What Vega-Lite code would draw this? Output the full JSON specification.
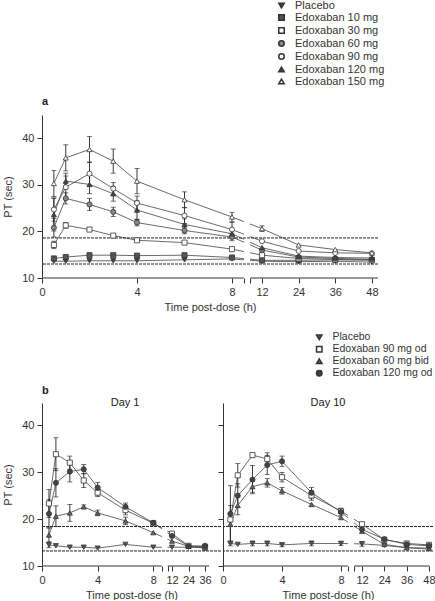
{
  "$schema": "https://vega.github.io/schema/vega-lite/v6.json",
  "padding": {"left": 2, "top": 0, "right": 0, "bottom": 0},
  "bounds": "flush",
  "spacing": 125,
  "config": {
    "font": "Liberation Sans",
    "view": {"stroke": null},
    "axis": {
      "grid": false, "labelFontSize": 11, "labelColor": "#333", "titleFontSize": 11,
      "titleFontWeight": "normal", "titleColor": "#333", "tickColor": "#333",
      "domainColor": "#333", "tickSize": 5, "labelPadding": 3, "labelOverlap": false
    },
    "legend": {
      "title": null, "padding": 0, "labelFontSize": 11, "labelColor": "#333", "symbolSize": 30, "labelOffset": 8
    }
  },
  "datasets": {
    "a": [
      {"g": "Placebo", "t": 0.5, "pt": 13.6}, {"g": "Placebo", "t": 1, "pt": 13.6}, {"g": "Placebo", "t": 2, "pt": 13.7},
      {"g": "Placebo", "t": 3, "pt": 13.7}, {"g": "Placebo", "t": 4, "pt": 13.7}, {"g": "Placebo", "t": 6, "pt": 13.9},
      {"g": "Placebo", "t": 8, "pt": 14.1}, {"g": "Placebo", "t": 12, "pt": 13.6}, {"g": "Placebo", "t": 24, "pt": 13.5},
      {"g": "Placebo", "t": 36, "pt": 13.6}, {"g": "Placebo", "t": 48, "pt": 13.4},
      {"g": "Edoxaban 10 mg", "t": 0.5, "pt": 14.2}, {"g": "Edoxaban 10 mg", "t": 1, "pt": 14.5}, {"g": "Edoxaban 10 mg", "t": 2, "pt": 14.9},
      {"g": "Edoxaban 10 mg", "t": 3, "pt": 14.9}, {"g": "Edoxaban 10 mg", "t": 4, "pt": 14.8}, {"g": "Edoxaban 10 mg", "t": 6, "pt": 14.9},
      {"g": "Edoxaban 10 mg", "t": 8, "pt": 14.4}, {"g": "Edoxaban 10 mg", "t": 12, "pt": 13.8}, {"g": "Edoxaban 10 mg", "t": 24, "pt": 13.8},
      {"g": "Edoxaban 10 mg", "t": 36, "pt": 13.9}, {"g": "Edoxaban 10 mg", "t": 48, "pt": 13.9},
      {"g": "Edoxaban 30 mg", "t": 0.5, "pt": 17.1, "e": 0.8}, {"g": "Edoxaban 30 mg", "t": 1, "pt": 21.3, "e": 0.6}, {"g": "Edoxaban 30 mg", "t": 2, "pt": 20.4},
      {"g": "Edoxaban 30 mg", "t": 3, "pt": 19.1}, {"g": "Edoxaban 30 mg", "t": 4, "pt": 18.1}, {"g": "Edoxaban 30 mg", "t": 6, "pt": 17.6},
      {"g": "Edoxaban 30 mg", "t": 8, "pt": 16.2}, {"g": "Edoxaban 30 mg", "t": 12, "pt": 14.9}, {"g": "Edoxaban 30 mg", "t": 24, "pt": 14.2},
      {"g": "Edoxaban 30 mg", "t": 36, "pt": 14.0}, {"g": "Edoxaban 30 mg", "t": 48, "pt": 13.8},
      {"g": "Edoxaban 60 mg", "t": 0.5, "pt": 20.8, "e": 2.0}, {"g": "Edoxaban 60 mg", "t": 1, "pt": 27.1, "e": 1.2}, {"g": "Edoxaban 60 mg", "t": 2, "pt": 25.8, "e": 1.3},
      {"g": "Edoxaban 60 mg", "t": 3, "pt": 24.2, "e": 1.0}, {"g": "Edoxaban 60 mg", "t": 4, "pt": 21.9, "e": 0.7}, {"g": "Edoxaban 60 mg", "t": 6, "pt": 20.2, "e": 0.7},
      {"g": "Edoxaban 60 mg", "t": 8, "pt": 18.8, "e": 0.8}, {"g": "Edoxaban 60 mg", "t": 12, "pt": 16.0}, {"g": "Edoxaban 60 mg", "t": 24, "pt": 14.5},
      {"g": "Edoxaban 60 mg", "t": 36, "pt": 14.2}, {"g": "Edoxaban 60 mg", "t": 48, "pt": 14.0},
      {"g": "Edoxaban 90 mg", "t": 0.5, "pt": 24.7, "e": 2.5}, {"g": "Edoxaban 90 mg", "t": 1, "pt": 29.5, "e": 2.4}, {"g": "Edoxaban 90 mg", "t": 2, "pt": 32.4, "e": 2.5},
      {"g": "Edoxaban 90 mg", "t": 3, "pt": 29.2, "e": 1.3}, {"g": "Edoxaban 90 mg", "t": 4, "pt": 26.1, "e": 1.5}, {"g": "Edoxaban 90 mg", "t": 6, "pt": 23.4, "e": 1.7},
      {"g": "Edoxaban 90 mg", "t": 8, "pt": 20.4, "e": 1.5}, {"g": "Edoxaban 90 mg", "t": 12, "pt": 17.9}, {"g": "Edoxaban 90 mg", "t": 24, "pt": 15.8},
      {"g": "Edoxaban 90 mg", "t": 36, "pt": 15.4}, {"g": "Edoxaban 90 mg", "t": 48, "pt": 15.3},
      {"g": "Edoxaban 120 mg", "t": 0.5, "pt": 23.6, "e": 3.5}, {"g": "Edoxaban 120 mg", "t": 1, "pt": 30.8, "e": 1.7}, {"g": "Edoxaban 120 mg", "t": 2, "pt": 30.1, "e": 2.0},
      {"g": "Edoxaban 120 mg", "t": 3, "pt": 28.1, "e": 1.6}, {"g": "Edoxaban 120 mg", "t": 4, "pt": 24.6, "e": 2.0}, {"g": "Edoxaban 120 mg", "t": 6, "pt": 21.5, "e": 1.2},
      {"g": "Edoxaban 120 mg", "t": 8, "pt": 19.5, "e": 1.0}, {"g": "Edoxaban 120 mg", "t": 12, "pt": 16.5}, {"g": "Edoxaban 120 mg", "t": 24, "pt": 14.7},
      {"g": "Edoxaban 120 mg", "t": 36, "pt": 14.4}, {"g": "Edoxaban 120 mg", "t": 48, "pt": 14.3},
      {"g": "Edoxaban 150 mg", "t": 0.5, "pt": 30.3, "e": 2.8}, {"g": "Edoxaban 150 mg", "t": 1, "pt": 35.8, "e": 2.8}, {"g": "Edoxaban 150 mg", "t": 2, "pt": 37.6, "e": 2.8},
      {"g": "Edoxaban 150 mg", "t": 3, "pt": 35.1, "e": 2.6}, {"g": "Edoxaban 150 mg", "t": 4, "pt": 30.8, "e": 2.7}, {"g": "Edoxaban 150 mg", "t": 6, "pt": 26.8, "e": 1.7},
      {"g": "Edoxaban 150 mg", "t": 8, "pt": 23.1, "e": 1.0}, {"g": "Edoxaban 150 mg", "t": 12, "pt": 20.6, "e": 0.6}, {"g": "Edoxaban 150 mg", "t": 24, "pt": 17.1},
      {"g": "Edoxaban 150 mg", "t": 36, "pt": 16.1}, {"g": "Edoxaban 150 mg", "t": 48, "pt": 15.4}
    ],
    "d1": [
      {"g": "Placebo", "t": 0.5, "pt": 14.5, "e": 0.6}, {"g": "Placebo", "t": 1, "pt": 14.3}, {"g": "Placebo", "t": 2, "pt": 14.0},
      {"g": "Placebo", "t": 3, "pt": 14.0}, {"g": "Placebo", "t": 4, "pt": 13.8}, {"g": "Placebo", "t": 6, "pt": 14.6},
      {"g": "Placebo", "t": 8, "pt": 14.0}, {"g": "Placebo", "t": 12, "pt": 14.0}, {"g": "Placebo", "t": 24, "pt": 14.0}, {"g": "Placebo", "t": 36, "pt": 13.9},
      {"g": "Edoxaban 90 mg od", "t": 0.5, "pt": 23.3, "e": 3.0}, {"g": "Edoxaban 90 mg od", "t": 1, "pt": 33.8, "e": 3.5}, {"g": "Edoxaban 90 mg od", "t": 2, "pt": 32.0, "e": 1.4},
      {"g": "Edoxaban 90 mg od", "t": 3, "pt": 28.2, "e": 1.5}, {"g": "Edoxaban 90 mg od", "t": 4, "pt": 25.6, "e": 0.8}, {"g": "Edoxaban 90 mg od", "t": 6, "pt": 21.9, "e": 1.0},
      {"g": "Edoxaban 90 mg od", "t": 8, "pt": 19.1}, {"g": "Edoxaban 90 mg od", "t": 12, "pt": 16.9}, {"g": "Edoxaban 90 mg od", "t": 24, "pt": 14.3}, {"g": "Edoxaban 90 mg od", "t": 36, "pt": 14.1},
      {"g": "Edoxaban 60 mg bid", "t": 0.5, "pt": 16.6, "e": 1.5}, {"g": "Edoxaban 60 mg bid", "t": 1, "pt": 20.6, "e": 2.2}, {"g": "Edoxaban 60 mg bid", "t": 2, "pt": 21.3, "e": 1.8},
      {"g": "Edoxaban 60 mg bid", "t": 3, "pt": 22.6, "e": 0.4}, {"g": "Edoxaban 60 mg bid", "t": 4, "pt": 21.3, "e": 0.6}, {"g": "Edoxaban 60 mg bid", "t": 6, "pt": 19.6, "e": 0.8},
      {"g": "Edoxaban 60 mg bid", "t": 8, "pt": 17.1}, {"g": "Edoxaban 60 mg bid", "t": 12, "pt": 15.3}, {"g": "Edoxaban 60 mg bid", "t": 24, "pt": 14.2}, {"g": "Edoxaban 60 mg bid", "t": 36, "pt": 13.8},
      {"g": "Edoxaban 120 mg od", "t": 0.5, "pt": 21.1, "e": 3.0}, {"g": "Edoxaban 120 mg od", "t": 1, "pt": 27.7, "e": 3.0}, {"g": "Edoxaban 120 mg od", "t": 2, "pt": 30.1, "e": 2.2},
      {"g": "Edoxaban 120 mg od", "t": 3, "pt": 30.6, "e": 1.0}, {"g": "Edoxaban 120 mg od", "t": 4, "pt": 26.7, "e": 1.1}, {"g": "Edoxaban 120 mg od", "t": 6, "pt": 22.6, "e": 0.8},
      {"g": "Edoxaban 120 mg od", "t": 8, "pt": 19.2}, {"g": "Edoxaban 120 mg od", "t": 12, "pt": 16.4}, {"g": "Edoxaban 120 mg od", "t": 24, "pt": 14.2}, {"g": "Edoxaban 120 mg od", "t": 36, "pt": 14.3}
    ],
    "d10": [
      {"g": "Placebo", "t": 0.5, "pt": 14.8, "e": 0.5}, {"g": "Placebo", "t": 1, "pt": 14.6}, {"g": "Placebo", "t": 2, "pt": 14.8, "e": 0.5},
      {"g": "Placebo", "t": 3, "pt": 14.8, "e": 0.5}, {"g": "Placebo", "t": 4, "pt": 14.5, "e": 0.4}, {"g": "Placebo", "t": 6, "pt": 14.8, "e": 0.5},
      {"g": "Placebo", "t": 8, "pt": 14.8, "e": 0.4}, {"g": "Placebo", "t": 12, "pt": 14.7, "e": 0.5}, {"g": "Placebo", "t": 24, "pt": 14.4},
      {"g": "Placebo", "t": 36, "pt": 13.9}, {"g": "Placebo", "t": 48, "pt": 13.6},
      {"g": "Edoxaban 90 mg od", "t": 0.5, "pt": 19.9}, {"g": "Edoxaban 90 mg od", "t": 1, "pt": 29.3, "e": 2.5}, {"g": "Edoxaban 90 mg od", "t": 2, "pt": 33.6, "e": 0.4},
      {"g": "Edoxaban 90 mg od", "t": 3, "pt": 32.8, "e": 1.3}, {"g": "Edoxaban 90 mg od", "t": 4, "pt": 28.9, "e": 1.0}, {"g": "Edoxaban 90 mg od", "t": 6, "pt": 25.0, "e": 1.0},
      {"g": "Edoxaban 90 mg od", "t": 8, "pt": 21.7}, {"g": "Edoxaban 90 mg od", "t": 12, "pt": 18.9}, {"g": "Edoxaban 90 mg od", "t": 24, "pt": 15.6},
      {"g": "Edoxaban 90 mg od", "t": 36, "pt": 14.8}, {"g": "Edoxaban 90 mg od", "t": 48, "pt": 14.5},
      {"g": "Edoxaban 60 mg bid", "t": 0.5, "pt": 18.9, "e": 4.0}, {"g": "Edoxaban 60 mg bid", "t": 1, "pt": 22.9, "e": 2.0}, {"g": "Edoxaban 60 mg bid", "t": 2, "pt": 26.9, "e": 1.2},
      {"g": "Edoxaban 60 mg bid", "t": 3, "pt": 27.7, "e": 0.9}, {"g": "Edoxaban 60 mg bid", "t": 4, "pt": 26.0, "e": 0.7}, {"g": "Edoxaban 60 mg bid", "t": 6, "pt": 23.1},
      {"g": "Edoxaban 60 mg bid", "t": 8, "pt": 20.3}, {"g": "Edoxaban 60 mg bid", "t": 12, "pt": 17.4}, {"g": "Edoxaban 60 mg bid", "t": 24, "pt": 14.6},
      {"g": "Edoxaban 60 mg bid", "t": 36, "pt": 13.9}, {"g": "Edoxaban 60 mg bid", "t": 48, "pt": 13.8},
      {"g": "Edoxaban 120 mg od", "t": 0.5, "pt": 21.1, "e": 6.0}, {"g": "Edoxaban 120 mg od", "t": 1, "pt": 25.0, "e": 2.5}, {"g": "Edoxaban 120 mg od", "t": 2, "pt": 28.4, "e": 3.0},
      {"g": "Edoxaban 120 mg od", "t": 3, "pt": 31.5, "e": 2.0}, {"g": "Edoxaban 120 mg od", "t": 4, "pt": 32.3, "e": 1.1}, {"g": "Edoxaban 120 mg od", "t": 6, "pt": 25.6, "e": 1.1},
      {"g": "Edoxaban 120 mg od", "t": 8, "pt": 21.5, "e": 0.8}, {"g": "Edoxaban 120 mg od", "t": 12, "pt": 17.8}, {"g": "Edoxaban 120 mg od", "t": 24, "pt": 15.7},
      {"g": "Edoxaban 120 mg od", "t": 36, "pt": 14.6}, {"g": "Edoxaban 120 mg od", "t": 48, "pt": 14.3}
    ]
  },
  "resolve": {"scale": {"shape": "independent", "fill": "independent"}},
  "vconcat": [
    {
      "width": 336,
      "height": 163,
      "layer": [
        {
          "data": {"name": "a"},
          "mark": {"type": "line", "color": "#444", "strokeWidth": 0.8},
          "encoding": {
            "x": {
              "field": "t", "type": "quantitative", "title": "Time post-dose (h)",
              "scale": {"domain": [0, 8, 12, 50], "range": [0, 190, 220, 336], "nice": false, "zero": false},
              "axis": {"values": [0, 4, 8, 9.56, 10.44, 12, 24, 36, 48], "tickCount": 20, "domain": false, "titlePadding": 4, "labelOverlap": false, "labelFlush": false,
                       "labelExpr": "datum.value == 9.56 || datum.value == 10.44 ? '' : datum.label"}
            },
            "y": {
              "field": "pt", "type": "quantitative", "title": "PT (sec)",
              "scale": {"domain": [10, 45], "nice": false, "zero": false},
              "axis": {"values": [10, 20, 30, 40], "titlePadding": 8}
            },
            "detail": {"field": "g"}
          }
        },
        {
          "data": {"values": [{"t": 9.6, "t2": 10.4}]},
          "mark": {"type": "rect", "fill": "white"},
          "encoding": {"x": {"field": "t", "type": "quantitative", "title": "Time post-dose (h)"}, "x2": {"field": "t2"}, "y": {"datum": 10.2}, "y2": {"datum": 45}}
        },
        {
          "data": {"values": [{"pt": 18.6}, {"pt": 13.0}]},
          "mark": {"type": "rule", "color": "#222", "strokeWidth": 1, "strokeDash": [3, 1]},
          "encoding": {"y": {"field": "pt", "type": "quantitative", "title": "PT (sec)"}}
        },
        {
          "data": {"values": [{"t": 0, "t2": 9.56}, {"t": 10.44, "t2": 50}]},
          "mark": {"type": "rule", "color": "#333", "strokeWidth": 1},
          "encoding": {"x": {"field": "t", "type": "quantitative", "title": "Time post-dose (h)"}, "x2": {"field": "t2"}, "y": {"datum": 10}}
        },
        {
          "data": {"name": "a"},
          "transform": [{"filter": "datum.e > 0"}],
          "mark": {"type": "errorbar", "color": "#222", "thickness": 0.9, "ticks": {"size": 5}},
          "encoding": {"x": {"field": "t", "type": "quantitative", "title": "Time post-dose (h)"}, "y": {"field": "pt", "type": "quantitative", "title": "PT (sec)"}, "yError": {"field": "e"}}
        },
        {
          "data": {"name": "a"},
          "mark": {"type": "point", "filled": true, "size": 26, "stroke": "#333", "strokeWidth": 0.8, "opacity": 1},
          "encoding": {
            "x": {"field": "t", "type": "quantitative", "title": "Time post-dose (h)"},
            "y": {"field": "pt", "type": "quantitative", "title": "PT (sec)"},
            "shape": {
              "field": "g", "type": "nominal",
              "scale": {"domain": ["Placebo", "Edoxaban 10 mg", "Edoxaban 30 mg", "Edoxaban 60 mg", "Edoxaban 90 mg", "Edoxaban 120 mg", "Edoxaban 150 mg"],
                        "range": ["triangle-down", "square", "square", "circle", "circle", "triangle-up", "triangle-up"]},
              "legend": {"orient": "none", "legendX": 234, "legendY": -115, "rowPadding": 0,
                         "encode": {"symbols": {"update": {"stroke": {"value": "#333"}, "strokeWidth": {"value": 0.8}}}}}
            },
            "fill": {
              "field": "g", "type": "nominal",
              "scale": {"domain": ["Placebo", "Edoxaban 10 mg", "Edoxaban 30 mg", "Edoxaban 60 mg", "Edoxaban 90 mg", "Edoxaban 120 mg", "Edoxaban 150 mg"],
                        "range": ["#444", "#555", "#fff", "#888", "#fff", "#444", "#fff"]},
              "legend": {"orient": "none", "legendX": 234, "legendY": -115, "rowPadding": 0,
                         "encode": {"symbols": {"update": {"stroke": {"value": "#333"}, "strokeWidth": {"value": 0.8}}}}}
            }
          }
        },
        {
          "data": {"values": [{"t": 0, "pt": 47.8, "lab": "a"}]},
          "mark": {"type": "text", "fontSize": 11, "fontWeight": "bold", "color": "#222", "align": "left", "baseline": "middle"},
          "encoding": {"x": {"field": "t", "type": "quantitative", "title": "Time post-dose (h)"}, "y": {"field": "pt", "type": "quantitative", "title": "PT (sec)"}, "text": {"field": "lab"}}
        }
      ]
    },
    {
      "bounds": "flush",
      "spacing": 2,
      "resolve": {"legend": {"shape": "independent", "fill": "independent"}},
      "hconcat": [
        {
          "width": 179,
          "height": 163,
          "layer": [
            {
              "data": {"name": "d1"},
              "mark": {"type": "line", "color": "#444", "strokeWidth": 0.8},
              "encoding": {
                "x": {
                  "field": "t", "type": "quantitative", "title": "Time post-dose (h)",
                  "scale": {"domain": [0, 8, 12, 47.6], "range": [0, 111.3, 130, 179], "nice": false, "zero": false},
                  "axis": {"values": [0, 4, 8, 9.8, 11.08, 12, 24, 36], "tickCount": 20, "domain": false, "titlePadding": 4, "labelOverlap": false, "labelFlush": false,
                           "labelExpr": "datum.value == 9.8 || datum.value == 11.08 ? '' : datum.label"}
                },
                "y": {
                  "field": "pt", "type": "quantitative", "title": "PT (sec)",
                  "scale": {"domain": [10, 44.7], "nice": false, "zero": false},
                  "axis": {"values": [10, 20, 30, 40], "titlePadding": 8}
                },
                "detail": {"field": "g"}
              }
            },
            {
              "data": {"values": [{"t": 9.85, "t2": 11.03}]},
              "mark": {"type": "rect", "fill": "white"},
              "encoding": {"x": {"field": "t", "type": "quantitative", "title": "Time post-dose (h)"}, "x2": {"field": "t2"}, "y": {"datum": 10.2}, "y2": {"datum": 44.7}}
            },
            {
              "data": {"values": [{"pt": 18.4}, {"pt": 13.2}]},
              "mark": {"type": "rule", "color": "#222", "strokeWidth": 1, "strokeDash": [3, 1]},
              "encoding": {"y": {"field": "pt", "type": "quantitative", "title": "PT (sec)"}}
            },
            {
              "data": {"values": [{"t": 0, "t2": 9.8}, {"t": 11.08, "t2": 38.9}]},
              "mark": {"type": "rule", "color": "#333", "strokeWidth": 1},
              "encoding": {"x": {"field": "t", "type": "quantitative", "title": "Time post-dose (h)"}, "x2": {"field": "t2"}, "y": {"datum": 10}}
            },
            {
              "data": {"name": "d1"},
              "transform": [{"filter": "datum.e > 0"}],
              "mark": {"type": "errorbar", "color": "#222", "thickness": 0.9, "ticks": {"size": 5}},
              "encoding": {"x": {"field": "t", "type": "quantitative", "title": "Time post-dose (h)"}, "y": {"field": "pt", "type": "quantitative", "title": "PT (sec)"}, "yError": {"field": "e"}}
            },
            {
              "data": {"name": "d1"},
              "mark": {"type": "point", "filled": true, "size": 26, "stroke": "#333", "strokeWidth": 0.8, "opacity": 1},
              "encoding": {
                "x": {"field": "t", "type": "quantitative", "title": "Time post-dose (h)"},
                "y": {"field": "pt", "type": "quantitative", "title": "PT (sec)"},
                "shape": {
                  "field": "g", "type": "nominal",
                  "scale": {"domain": ["Placebo", "Edoxaban 90 mg od", "Edoxaban 60 mg bid", "Edoxaban 120 mg od"],
                            "range": ["triangle-down", "square", "triangle-up", "circle"]},
                  "legend": null
                },
                "fill": {
                  "field": "g", "type": "nominal",
                  "scale": {"domain": ["Placebo", "Edoxaban 90 mg od", "Edoxaban 60 mg bid", "Edoxaban 120 mg od"],
                            "range": ["#555", "#fff", "#666", "#444"]},
                  "legend": null
                }
              }
            },
            {
              "data": {"values": [{"t": 0, "pt": 47.3, "lab": "b"}]},
              "mark": {"type": "text", "fontSize": 11, "fontWeight": "bold", "color": "#222", "align": "left", "baseline": "middle"},
              "encoding": {"x": {"field": "t", "type": "quantitative", "title": "Time post-dose (h)"}, "y": {"field": "pt", "type": "quantitative", "title": "PT (sec)"}, "text": {"field": "lab"}}
            },
            {
              "data": {"values": [{"t": 5.97, "pt": 44.7, "lab": "Day 1"}]},
              "mark": {"type": "text", "fontSize": 11, "color": "#222", "align": "center", "baseline": "middle"},
              "encoding": {"x": {"field": "t", "type": "quantitative", "title": "Time post-dose (h)"}, "y": {"field": "pt", "type": "quantitative", "title": "PT (sec)"}, "text": {"field": "lab"}}
            }
          ]
        },
        {
          "width": 210,
          "height": 163,
          "layer": [
            {
              "data": {"name": "d10"},
              "mark": {"type": "line", "color": "#444", "strokeWidth": 0.8},
              "encoding": {
                "x": {
                  "field": "t", "type": "quantitative", "title": "Time post-dose (h)",
                  "scale": {"domain": [0, 8, 12, 50.15], "range": [0, 118, 139, 210], "nice": false, "zero": false},
                  "axis": {"values": [0, 4, 8, 9.28, 10.53, 12, 24, 36, 48], "tickCount": 20, "domain": false, "titlePadding": 4, "labelOverlap": false, "labelFlush": false,
                           "labelExpr": "datum.value == 9.28 || datum.value == 10.53 ? '' : datum.label"}
                },
                "y": {
                  "field": "pt", "type": "quantitative", "title": null,
                  "scale": {"domain": [10, 44.7], "nice": false, "zero": false},
                  "axis": {"values": [10, 20, 30, 40], "labels": false}
                },
                "detail": {"field": "g"}
              }
            },
            {
              "data": {"values": [{"t": 9.33, "t2": 10.48}]},
              "mark": {"type": "rect", "fill": "white"},
              "encoding": {"x": {"field": "t", "type": "quantitative", "title": "Time post-dose (h)"}, "x2": {"field": "t2"}, "y": {"datum": 10.2}, "y2": {"datum": 44.7}}
            },
            {
              "data": {"values": [{"pt": 18.4}, {"pt": 13.2}]},
              "mark": {"type": "rule", "color": "#222", "strokeWidth": 1, "strokeDash": [3, 1]},
              "encoding": {"y": {"field": "pt", "type": "quantitative", "title": null}}
            },
            {
              "data": {"values": [{"t": 0, "t2": 9.28}, {"t": 10.53, "t2": 48.3}]},
              "mark": {"type": "rule", "color": "#333", "strokeWidth": 1},
              "encoding": {"x": {"field": "t", "type": "quantitative", "title": "Time post-dose (h)"}, "x2": {"field": "t2"}, "y": {"datum": 10}}
            },
            {
              "data": {"name": "d10"},
              "transform": [{"filter": "datum.e > 0"}],
              "mark": {"type": "errorbar", "color": "#222", "thickness": 0.9, "ticks": {"size": 5}},
              "encoding": {"x": {"field": "t", "type": "quantitative", "title": "Time post-dose (h)"}, "y": {"field": "pt", "type": "quantitative", "title": null}, "yError": {"field": "e"}}
            },
            {
              "data": {"name": "d10"},
              "mark": {"type": "point", "filled": true, "size": 26, "stroke": "#333", "strokeWidth": 0.8, "opacity": 1},
              "encoding": {
                "x": {"field": "t", "type": "quantitative", "title": "Time post-dose (h)"},
                "y": {"field": "pt", "type": "quantitative", "title": null},
                "shape": {
                  "field": "g", "type": "nominal",
                  "scale": {"domain": ["Placebo", "Edoxaban 90 mg od", "Edoxaban 60 mg bid", "Edoxaban 120 mg od"],
                            "range": ["triangle-down", "square", "triangle-up", "circle"]},
                  "legend": {"orient": "none", "legendX": 91, "legendY": -71, "rowPadding": 0, "labelFontSize": 10.5,
                             "encode": {"symbols": {"update": {"stroke": {"value": "#333"}, "strokeWidth": {"value": 0.8}}}}}
                },
                "fill": {
                  "field": "g", "type": "nominal",
                  "scale": {"domain": ["Placebo", "Edoxaban 90 mg od", "Edoxaban 60 mg bid", "Edoxaban 120 mg od"],
                            "range": ["#555", "#fff", "#666", "#444"]},
                  "legend": {"orient": "none", "legendX": 91, "legendY": -71, "rowPadding": 0, "labelFontSize": 10.5,
                             "encode": {"symbols": {"update": {"stroke": {"value": "#333"}, "strokeWidth": {"value": 0.8}}}}}
                }
              }
            },
            {
              "data": {"values": [{"t": 7.12, "pt": 44.7, "lab": "Day 10"}]},
              "mark": {"type": "text", "fontSize": 11, "color": "#222", "align": "center", "baseline": "middle"},
              "encoding": {"x": {"field": "t", "type": "quantitative", "title": "Time post-dose (h)"}, "y": {"field": "pt", "type": "quantitative", "title": null}, "text": {"field": "lab"}}
            }
          ]
        }
      ]
    }
  ]
}
